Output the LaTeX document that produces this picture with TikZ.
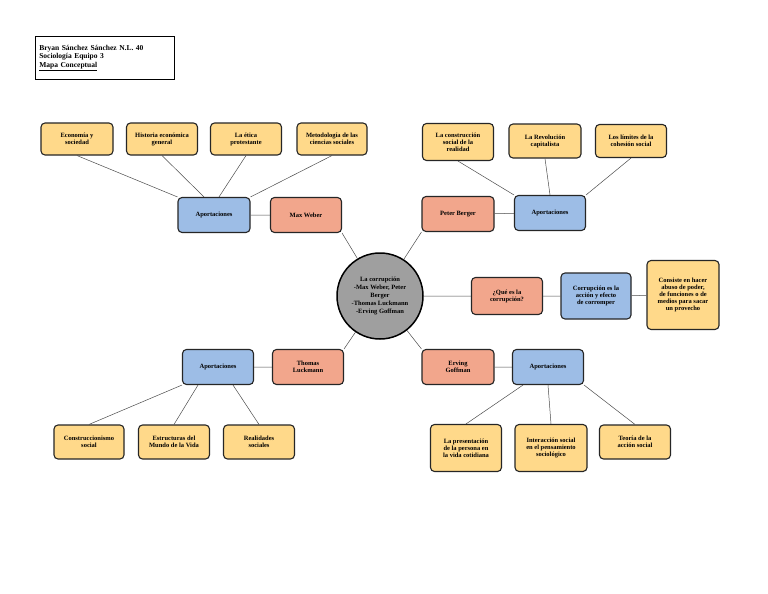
\documentclass[tikz,border=0pt]{standalone}
\usepackage{fontspec}
\setmainfont{Liberation Serif}
\tikzset{
 box/.style={draw=black!85,line width=1.1pt,rounded corners=4pt,align=center,font=\bfseries\fontsize{6.5}{7}\selectfont,inner sep=1pt,anchor=center},
 yel/.style={box,fill=yellow!30!orange!45!white},
 blu/.style={box,fill=blue!30!cyan!25!white,fill={rgb,255:red,157;green,189;blue,230}},
 sal/.style={box,fill={rgb,255:red,242;green,166;blue,140}},
 ln/.style={draw=black!70,line width=0.5pt}
}
\begin{document}
\begin{tikzpicture}[x=1pt,y=-1pt]
\definecolor{yy}{RGB}{255,217,138}
\tikzset{yel/.style={box,fill=yy}}
\useasboundingbox (0,0) rectangle (768,594);
\fill[white] (0,0) rectangle (768,594);
\node[draw,line width=0.6pt,minimum width=139pt,minimum height=43pt,align=left,anchor=north west,inner sep=4pt,font=\bfseries\fontsize{7.5}{8.5}\selectfont,text width=131pt] (title) at (35,36) {Bryan Sánchez Sánchez N.L. 40\\Sociología Equipo 3\\\underline{Mapa Conceptual}\\[-6pt]};
\node[circle,draw,line width=1.5pt,fill=gray!75,minimum size=86pt,align=center,font=\bfseries\fontsize{6.5}{8}\selectfont] (c) at (380,296) {La corrupción\\-Max Weber, Peter\\Berger\\-Thomas Luckmann\\-Erving Goffman};
% Weber
\node[yel,minimum width=72pt,minimum height=32pt] (e1) at (77,139) {Economía y\\sociedad};
\node[yel,minimum width=71pt,minimum height=32pt] (e2) at (162,139) {Historia económica\\general};
\node[yel,minimum width=71pt,minimum height=32pt] (e3) at (246,139) {La ética\\protestante};
\node[yel,minimum width=70pt,minimum height=32pt] (e4) at (332,139) {Metodología de las\\ciencias sociales};
\node[blu,minimum width=72pt,minimum height=35pt] (a1) at (214,215) {Aportaciones};
\node[sal,minimum width=71pt,minimum height=35pt] (mw) at (306,215) {Max Weber};
% Berger
\node[yel,minimum width=71pt,minimum height=37pt] (b1) at (458,142) {La construcción\\social de la\\realidad};
\node[yel,minimum width=72pt,minimum height=34pt] (b2) at (545,141) {La Revolución\\capitalista};
\node[yel,minimum width=71pt,minimum height=33pt] (b3) at (631,141) {Los límites de la\\cohesión social};
\node[sal,minimum width=72pt,minimum height=35pt] (pb) at (458,214) {Peter Berger};
\node[blu,minimum width=71pt,minimum height=35pt] (a2) at (550,213) {Aportaciones};
% que es
\node[sal,minimum width=71pt,minimum height=37pt] (q) at (507,296) {¿Qué es la\\corrupción?};
\node[blu,minimum width=70pt,minimum height=46pt] (d) at (596,296) {Corrupción es la\\acción y efecto\\de corromper};
\node[yel,minimum width=72pt,minimum height=69pt] (d2) at (683,295) {Consiste en hacer\\abuso de poder,\\de funciones o de\\medios para sacar\\un provecho};
% Luckmann
\node[blu,minimum width=71pt,minimum height=35pt] (a3) at (218,367) {Aportaciones};
\node[sal,minimum width=71pt,minimum height=35pt] (tl) at (308,367) {Thomas\\Luckmann};
\node[yel,minimum width=70pt,minimum height=34pt] (l1) at (89,442) {Construccionismo\\social};
\node[yel,minimum width=71pt,minimum height=34pt] (l2) at (174,442) {Estructuras del\\Mundo de la Vida};
\node[yel,minimum width=71pt,minimum height=34pt] (l3) at (259,442) {Realidades\\sociales};
% Goffman
\node[sal,minimum width=72pt,minimum height=35pt] (eg) at (458,367) {Erving\\Goffman};
\node[blu,minimum width=71pt,minimum height=35pt] (a4) at (548,367) {Aportaciones};
\node[yel,minimum width=71pt,minimum height=47pt] (g1) at (466,448) {La presentación\\de la persona en\\la vida cotidiana};
\node[yel,minimum width=72pt,minimum height=47pt] (g2) at (551,448) {Interacción social\\en el pensamiento\\sociológico};
\node[yel,minimum width=71pt,minimum height=34pt] (g3) at (635,442) {Teoría de la\\acción social};
\begin{scope}[on background layer/.try]
\end{scope}
\path[ln] (e1.south) -- (a1.north west) (e2.south) -- ([xshift=-10pt]a1.north) (e3.south) -- ([xshift=5pt]a1.north) (e4.south) -- (a1.north east);
\path[ln] (a1) -- (mw) (mw.south east) -- (c) (pb.south west) -- (c) (pb) -- (a2);
\path[ln] (b1.south) -- (a2.north west) (b2.south) -- (a2.north) (b3.south) -- (a2.north east);
\path[ln] (c) -- (q) (q) -- (d) (d) -- (d2);
\path[ln] (c) -- (tl.north east) (tl) -- (a3) (c) -- (eg.north west) (eg) -- (a4);
\path[ln] (a3.south west) -- (l1.north) ([xshift=-20pt]a3.south) -- (l2.north) ([xshift=15pt]a3.south) -- (l3.north);
\path[ln] ([xshift=-25pt]a4.south) -- (g1.north) (a4.south) -- (g2.north) (a4.south east) -- (g3.north);
\end{tikzpicture}
\end{document}
